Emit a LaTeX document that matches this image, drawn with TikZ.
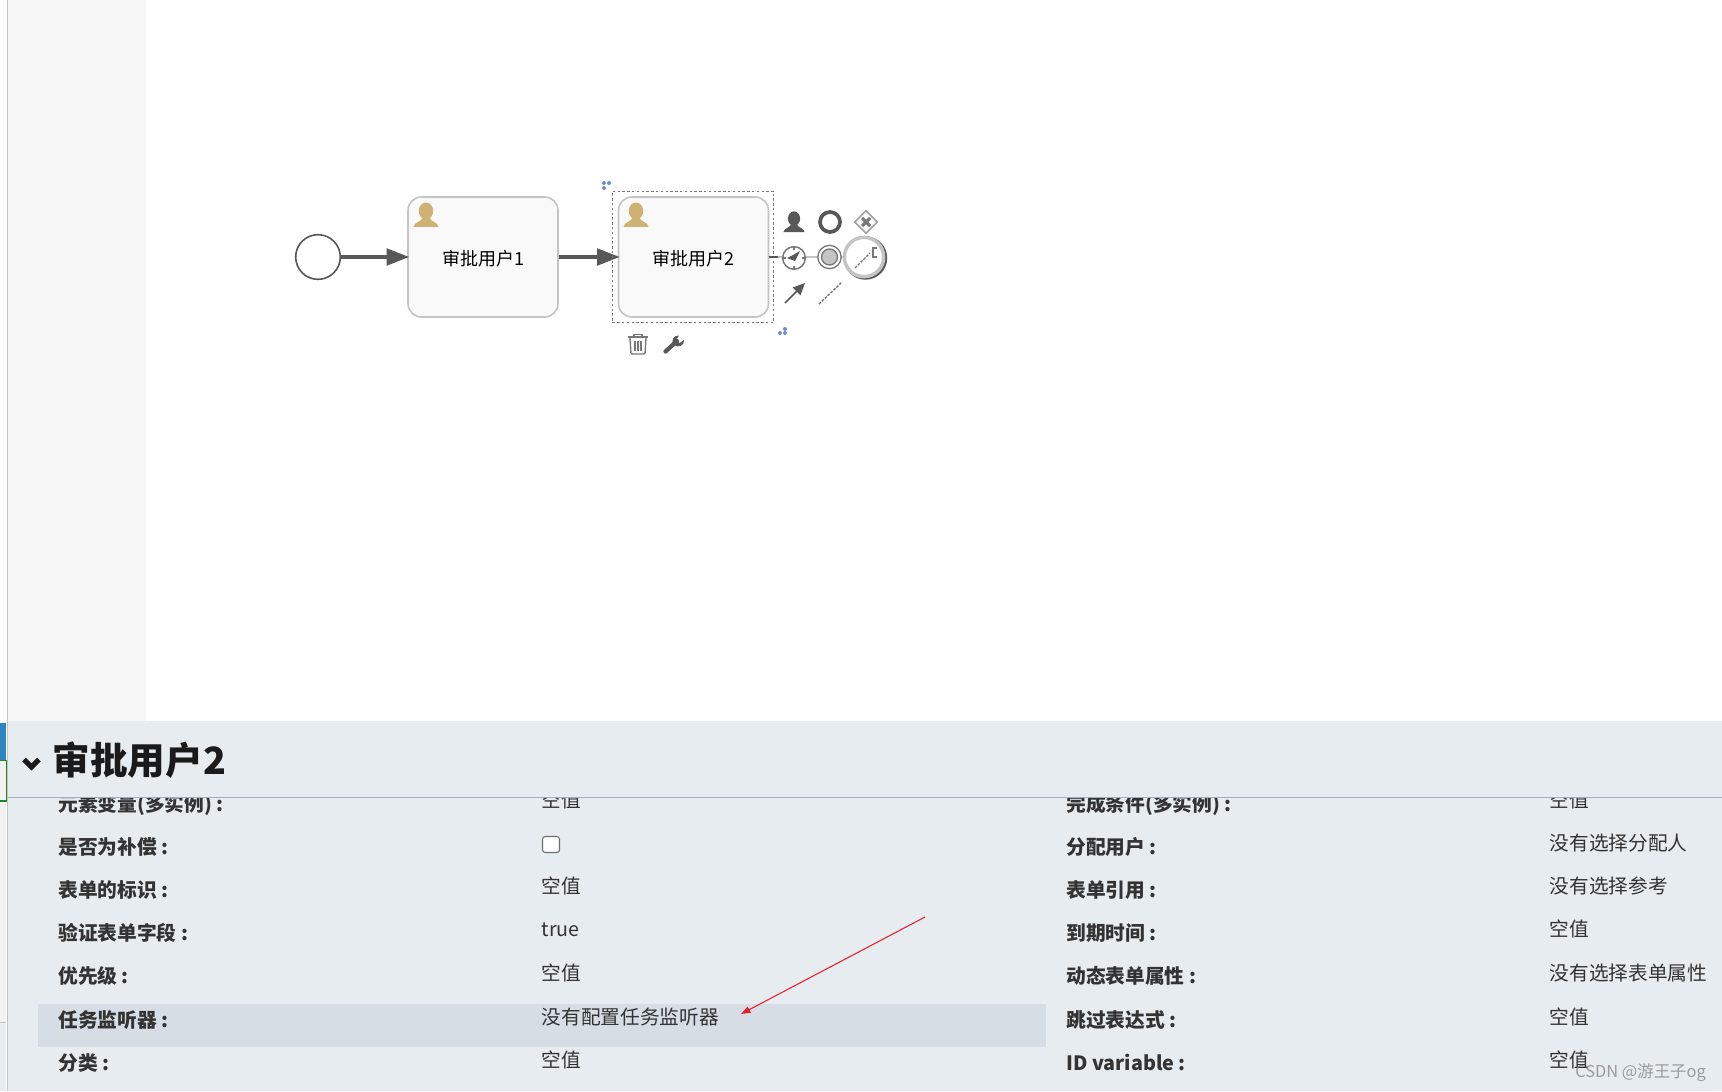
\documentclass[tikz,border=0pt]{standalone}
\usepackage{fontspec}
\setmainfont{Noto Sans CJK SC}
\usetikzlibrary{arrows.meta,shapes.geometric}
\definecolor{panel}{HTML}{E7ECF0}
\definecolor{hilite}{HTML}{D6DDE5}
\definecolor{side}{HTML}{F7F7F7}
\definecolor{tfill}{HTML}{F9F9F9}
\definecolor{strip}{HTML}{F2F2F2}
\definecolor{dk}{HTML}{585858}
\definecolor{md}{HTML}{777777}
\definecolor{lt}{HTML}{C4C4C4}
\definecolor{gold}{HTML}{CFB272}
\definecolor{txt}{HTML}{333333}
\definecolor{handle}{HTML}{6A90CC}
\definecolor{tabblue}{HTML}{2D85C0}
\definecolor{tabgreen}{HTML}{1E8A1E}
\definecolor{boxedge}{HTML}{6E6E6E}
\definecolor{rulecol}{HTML}{A4ADC2}
\definecolor{ink}{HTML}{1A1A1A}
\definecolor{redmark}{HTML}{E8202A}
\tikzset{
  lab/.style={anchor=base west,inner sep=0pt,font=\fontsize{14.8}{18}\selectfont\bfseries,text=txt},
  val/.style={anchor=base west,inner sep=0pt,font=\fontsize{14.75}{18}\selectfont,text=txt},
  task/.style={draw=lt,line width=1.2pt,fill=tfill,rounded corners=10pt,minimum width=112.5pt,minimum height=90pt,inner sep=0pt,font=\fontsize{13.5}{16}\selectfont,text=black},
  flow/.style={draw=dk,line width=2.4pt,shorten >=-1.5pt,-{Triangle[length=17pt,width=12.5pt]}},
  person/.pic={
    \path[fill=#1] (-12.5,12) -- (12.5,12) .. controls (12,7) and (5,7) .. (3.5,3) -- (-3.5,3) .. controls (-5,7) and (-12,7) .. (-12.5,12) -- cycle;
    \path[fill=#1] (0,-4) ellipse [x radius=7.2,y radius=8.5];
  },
  pdot/.style={fill=handle}
}
\begin{document}
\begin{tikzpicture}[x=0.75pt,y=-0.75pt]
\useasboundingbox (0,0) rectangle (1722,1091);
\fill[white] (0,0) rectangle (1722,1091);
% left margin and canvas strip
\fill[side] (8,0) rectangle (146,721);
\fill[strip] (0,760) rectangle (6,1022);
\fill[panel] (0,1022) rectangle (6,1091);
\fill[tabblue] (0,723) rectangle (6,760);
\fill[lt] (0,1021.5) rectangle (6,1022.5);
\fill[lt] (6.5,0) rectangle (8,1091);
\draw[tabgreen,line width=.8pt] (-1,760.5) rectangle (6.5,801);
% panel
\fill[panel] (8,721) rectangle (1722,1091);
\fill[hilite] (38,1004) rectangle (1046,1047);
% left column
\node[lab] (l0) at (58,811) {元素变量(多实例) :};
\node[lab] (l1) at (58,854) {是否为补偿 :};
\node[lab] (l2) at (58,897) {表单的标识 :};
\node[lab] (l3) at (58,940) {验证表单字段 :};
\node[lab] (l4) at (58,983) {优先级 :};
\node[lab] (l5) at (58,1027) {任务监听器 :};
\node[lab] (l6) at (58,1070) {分类 :};
\node[val] (v0) at (541.5,807) {空值};
\draw[boxedge,fill=white,line width=.8pt,rounded corners=2pt] (542.5,836.5) rectangle (559.5,852.5);
\node[val] (v2) at (541.5,893) {空值};
\node[val] (v3) at (541.5,936.5) {true};
\node[val] (v4) at (541.5,980) {空值};
\node[val] (v5) at (541.5,1024) {没有配置任务监听器};
\node[val] (v6) at (541.5,1067) {空值};
% right column
\node[lab] (r0) at (1066,811) {完成条件(多实例) :};
\node[lab] (r1) at (1066,854) {分配用户 :};
\node[lab] (r2) at (1066,897) {表单引用 :};
\node[lab] (r3) at (1066,940) {到期时间 :};
\node[lab] (r4) at (1066,983) {动态表单属性 :};
\node[lab] (r5) at (1066,1027) {跳过表达式 :};
\node[lab] (r6) at (1066,1070) {ID variable :};
\node[val] (w0) at (1549.5,807) {空值};
\node[val] (w1) at (1549.5,850) {没有选择分配人};
\node[val] (w2) at (1549.5,893) {没有选择参考};
\node[val] (w3) at (1549.5,936.5) {空值};
\node[val] (w4) at (1549.5,980) {没有选择表单属性};
\node[val] (w5) at (1549.5,1024) {空值};
\node[val] (w6) at (1549.5,1067) {空值};
% header over the rows
\fill[panel] (8,721) rectangle (1722,798);
\draw[rulecol,line width=.8pt] (8,797.5) -- (1722,797.5);
\draw[ink,line width=3.8pt] (24,759.5) -- (31.5,767) -- (39,759.5);
\node[anchor=base west,inner sep=0pt,font=\fontsize{28.2}{32}\selectfont\bfseries,text=ink] (title) at (52.5,774) {审批用户2};
% diagram
\node[circle,draw=dk,line width=1.2pt,fill=white,minimum size=33.5pt,inner sep=0pt] (start) at (318,257) {};
\node[task,text depth=0pt] (t1) at (483,257) {\raisebox{-1.5pt}{审批用户1}};
\node[task,text depth=0pt] (t2) at (693.5,257) {\raisebox{-1.5pt}{审批用户2}};
\draw[flow] (start) -- (t1);
\draw[flow] (t1) -- (t2);
\pic at (426,215) {person=gold};
\pic at (636,215) {person=gold};
\node[draw=md,dash pattern=on 1.8pt off 1.8pt,line width=.9pt,minimum width=121pt,minimum height=98.5pt,inner sep=0pt] (sel) at (693,257) {};
\foreach \p in {(604,183),(604,188),(609,183),(780,333),(785,329),(785,333)} \fill[pdot] \p circle[radius=2];
% context pad
\coordinate (stub) at (778,257);
\draw[dk,line width=1.8pt] (865.5,258) circle[radius=20.5];
\node[circle,draw=lt,line width=2.6pt,fill=white,minimum size=29.5pt,inner sep=0pt] (big) at (864,257) {};
\draw[dk,line width=2pt] (t2.east) -- (stub);
\draw[lt,line width=2pt] (stub) -- (big.west);
\pic[scale=.85] at (794,222) {person=dk};
\node[circle,draw=dk,line width=2.8pt,fill=white,minimum size=15pt,inner sep=0pt] (ring) at (830,222) {};
\node[diamond,draw=md!70,line width=1.2pt,fill=white,minimum size=17.5pt,inner sep=0pt] (gate) at (866,222) {};
\draw[md,line width=2.4pt] (862,218) -- (870,226) (862,226) -- (870,218);
\node[circle,draw=md,line width=1.1pt,fill=white,minimum size=17pt,inner sep=0pt] (timer) at (794,258) {};
\fill[dk] (800,251) -- (795,261) -- (787,258) -- (793,255) -- cycle;
\draw[md,line width=1pt] (794,247) -- (794,250) (794,266) -- (794,269) (783,258) -- (786,258) (802,258) -- (805,258);
\node[circle,draw=md,line width=1pt,fill=white,minimum size=17.5pt,inner sep=0pt] (endev) at (829.5,257) {};
\node[circle,draw=md,line width=1pt,fill=lt,minimum size=12pt,inner sep=0pt] (endin) at (829.5,257) {};
\draw[md,line width=1pt,dash pattern=on 2pt off 1pt] (855,268) -- (870,253);
\draw[md,line width=1.2pt] (877,248) -- (873,248) -- (873,257) -- (877,257);
\coordinate (ua) at (785,303);
\coordinate (ub) at (805,283);
\draw[dk,line width=1.3pt,-{Triangle[length=9pt,width=8pt]}] (ua) -- (ub);
\coordinate (da) at (819,304);
\coordinate (db) at (841,283);
\draw[md,line width=1.1pt,dash pattern=on 2pt off 1pt] (da) -- (db);
% trash
\draw[md,line width=1pt,rounded corners=1pt] (630,338) -- (631,354) -- (645,354) -- (646,338);
\draw[md,line width=1.3pt] (628,337) -- (648,337);
\draw[md,line width=1pt] (634,337) -- (634,334.5) -- (642,334.5) -- (642,337);
\draw[md,line width=1.1pt] (635,341) -- (635,351) (638,341) -- (638,351) (641,341) -- (641,351);
% wrench
\draw[dk,line width=3.2pt,line cap=round] (665.5,351.5) -- (677,341);
\fill[dk] (679,335.5) -- (676,340) -- (679.5,343) -- (684,340) .. controls (685,345) and (678,349) .. (673.5,344.5) .. controls (671,340) and (673,335.5) .. (679,335.5) -- cycle;
% red marker
\coordinate (ma) at (925,917);
\coordinate (mb) at (741,1014);
\draw[redmark,line width=.8pt,-{Triangle[length=7pt,width=5pt]}] (ma) -- (mb);
% watermark
\node[anchor=base west,inner sep=0pt,font=\fontsize{12.3}{15}\selectfont,text=black!50,opacity=.75] (wm) at (1575,1077.5) {CSDN @游王子og};
\end{tikzpicture}
\end{document}
